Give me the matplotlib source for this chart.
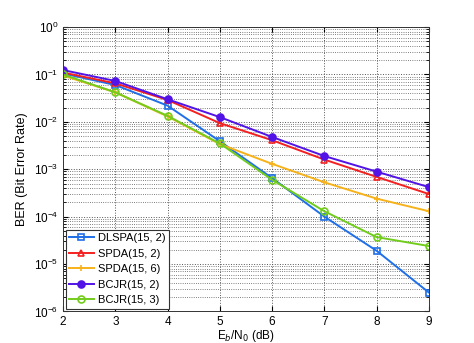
import matplotlib

matplotlib.use("Agg")
import matplotlib.pyplot as plt
from matplotlib.ticker import LogLocator, NullFormatter

plt.rcParams["font.family"] = ["Liberation Sans", "DejaVu Sans"]

# Eb/N0 (dB)
snr = [2, 3, 4, 5, 6, 7, 8, 9]

# BER values
dlspa_15_2 = [0.105, 0.060, 0.022, 3.9e-3, 6.5e-4, 1.0e-4, 1.9e-5, 2.5e-6]
spda_15_2 = [0.11, 0.065, 0.029, 9.4e-3, 4.1e-3, 1.6e-3, 6.9e-4, 3.0e-4]
spda_15_6 = [0.095, 0.042, 0.013, 3.4e-3, 1.3e-3, 5.3e-4, 2.4e-4, 1.3e-4]
bcjr_15_2 = [0.124, 0.073, 0.030, 0.0126, 4.8e-3, 1.9e-3, 8.9e-4, 4.2e-4]
bcjr_15_3 = [0.100, 0.042, 0.0134, 3.5e-3, 6.0e-4, 1.3e-4, 3.7e-5, 2.4e-5]

series = [
    ("DLSPA(15, 2)", dlspa_15_2, "#1f6fe8", "s", "none"),
    ("SPDA(15, 2)", spda_15_2, "#f42020", "^", "none"),
    ("SPDA(15, 6)", spda_15_6, "#f7b21a", "+", "none"),
    ("BCJR(15, 2)", bcjr_15_2, "#5214e6", "o", "#5214e6"),
    ("BCJR(15, 3)", bcjr_15_3, "#72cc1c", "o", "none"),
]

fig = plt.figure(figsize=(4.74, 3.43), dpi=100)
ax = fig.add_axes([0.133, 0.092, 0.772, 0.829])

for label, ber, color, marker, mfc in series:
    ax.semilogy(snr, ber, color=color, marker=marker, markerfacecolor=mfc,
                markeredgecolor=color, markersize=5, linewidth=1.4,
                markeredgewidth=1.2, label=label)

ax.set_xlim(2, 9)
ax.set_ylim(1e-6, 1)
ax.set_xticks(snr)
ax.yaxis.set_major_locator(LogLocator(base=10, numticks=10))
ax.yaxis.set_minor_locator(LogLocator(base=10, subs=range(2, 10), numticks=10))
ax.yaxis.set_minor_formatter(NullFormatter())
ax.grid(True, which="major", linestyle=":", color="#555555", linewidth=0.7)
ax.grid(True, which="minor", axis="y", linestyle=":", color="#555555", linewidth=0.6)
ax.tick_params(which="both", direction="in", labelsize=8.5, top=True, right=True)
ax.tick_params(which="minor", length=2)
for s in ax.spines.values():
    s.set_color("#333333")
    s.set_linewidth(0.7)

ax.set_ylabel("BER (Bit Error Rate)", fontsize=9, labelpad=4)
ax.set_xlabel(r"E$_b$/N$_0$ (dB)", fontsize=8.5, labelpad=0)

leg = ax.legend(loc="lower left", fontsize=8, frameon=True, fancybox=False,
                borderpad=0.3, labelspacing=0.5, handlelength=2.2,
                handletextpad=0.4, borderaxespad=0.25)
leg.get_frame().set_edgecolor("#333333")
leg.get_frame().set_linewidth(0.8)
leg.get_frame().set_alpha(1)

fig.savefig("out.png", dpi=100)
